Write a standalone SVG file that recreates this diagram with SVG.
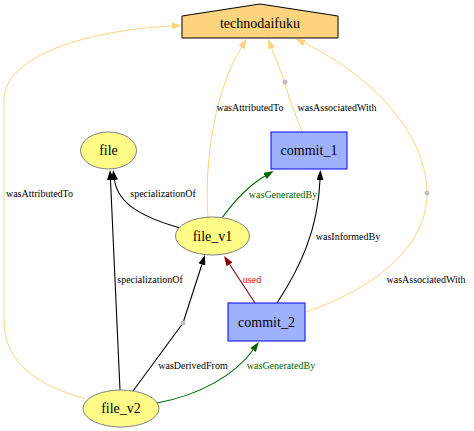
<svg xmlns="http://www.w3.org/2000/svg" width="474" height="431" viewBox="0 0 474 431" font-family="'Liberation Serif', 'DejaVu Serif', serif">
<style>
text{font-family:'Liberation Serif','DejaVu Serif',serif;text-anchor:middle}
.n{font-size:14px;fill:#000}
.l{font-size:10px;fill:#000}
.g{fill:#006400}
.r{fill:#ff0000}
.ent{fill:#fffc87;stroke:#808080;stroke-width:1}
.act{fill:#9fb1fc;stroke:#0000ff;stroke-width:1}
.agt{fill:#fed37f;stroke:#000;stroke-width:1}
.e{fill:none;stroke-width:1.1}
.k{stroke:#000}
.o{stroke:#fed37f;stroke-width:1}
.dg{stroke:#006400}
.dr{stroke:#8b0000}
.dot{fill:#c0c0c0}
</style>
<defs>
<marker id="ak" viewBox="0 0 10 7" refX="0" refY="3.5" markerWidth="10" markerHeight="7" markerUnits="userSpaceOnUse" orient="auto"><path d="M0,0L10,3.5L0,7z" fill="#000"/></marker>
<marker id="ao" viewBox="0 0 10 7" refX="0" refY="3.5" markerWidth="10" markerHeight="7" markerUnits="userSpaceOnUse" orient="auto"><path d="M0,0L10,3.5L0,7z" fill="#fed37f"/></marker>
<marker id="ag" viewBox="0 0 10 7" refX="0" refY="3.5" markerWidth="10" markerHeight="7" markerUnits="userSpaceOnUse" orient="auto"><path d="M0,0L10,3.5L0,7z" fill="#006400"/></marker>
<marker id="ar" viewBox="0 0 10 7" refX="0" refY="3.5" markerWidth="10" markerHeight="7" markerUnits="userSpaceOnUse" orient="auto"><path d="M0,0L10,3.5L0,7z" fill="#8b0000"/></marker>
</defs>
<g id="edges">
<path class="e o" d="M86,399 C40,386 4,365 4,320 L4,100 C4,55 90,30 172,26" marker-end="url(#ao)"/>
<text class="l" x="39.5" y="196.5" font-family="'Liberation Serif', serif">wasAttributedTo</text>
<path class="e o" d="M208,217 C204,160 215,90 241.5,47.3" marker-end="url(#ao)"/>
<text class="l" x="250" y="110.5" font-family="'Liberation Serif', serif">wasAttributedTo</text>
<path class="e o" d="M302,132 C296,115 287,95 285,82 L271.7,48.3" marker-end="url(#ao)"/>
<text class="l" x="337" y="110.5" font-family="'Liberation Serif', serif">wasAssociatedWith</text>
<path class="e o" d="M306,312 C370,290 427,250 427,193 C427,140 380,80 304.6,43.1" marker-end="url(#ao)"/>
<text class="l" x="426" y="282.5" font-family="'Liberation Serif', serif">wasAssociatedWith</text>
<path class="e k" d="M180,228 C145,218 118,205 114.5,180" marker-end="url(#ak)"/>
<text class="l" x="163" y="196.5" font-family="'Liberation Serif', serif">specializationOf</text>
<path class="e k" d="M120,390 L110.5,180" marker-end="url(#ak)"/>
<text class="l" x="150" y="282.5" font-family="'Liberation Serif', serif">specializationOf</text>
<path class="e dg" d="M222,218 C235,200 248,186 265,176" marker-end="url(#ag)"/>
<text class="l g" x="283" y="197.5" font-family="'Liberation Serif', serif">wasGeneratedBy</text>
<path class="e dr" d="M255,303 L229.5,264.3" marker-end="url(#ar)"/>
<text class="l r" x="252" y="282.5" font-family="'Liberation Serif', serif">used</text>
<path class="e k" d="M277,303 C300,268 318,230 320,180" marker-end="url(#ak)"/>
<text class="l" x="348" y="239.5" font-family="'Liberation Serif', serif">wasInformedBy</text>
<path class="e k" d="M133,391 L183,323 L201.9,264.5" marker-end="url(#ak)"/>
<text class="l" x="193" y="368.5" font-family="'Liberation Serif', serif">wasDerivedFrom</text>
<path class="e dg" d="M157,403 C200,395 235,375 253,350" marker-end="url(#ag)"/>
<text class="l g" x="281" y="368.5" font-family="'Liberation Serif', serif">wasGeneratedBy</text>
<circle class="dot" cx="285" cy="82" r="2.5"/>
<circle class="dot" cx="427" cy="193" r="2.5"/>
<circle class="dot" cx="183" cy="323" r="2.5"/>
</g>
<g id="technodaifuku">
<polygon class="agt" points="182,38 182,16 260,4 338,16 338,38"/>
<text class="n" x="260" y="27.5" font-family="'Liberation Serif', serif">technodaifuku</text>
</g>
<g id="file">
<ellipse class="ent" cx="108.5" cy="150.5" rx="28" ry="18.5"/>
<text class="n" x="108.5" y="155" font-family="'Liberation Serif', serif">file</text>
</g>
<g id="file_v1">
<ellipse class="ent" cx="212.5" cy="236" rx="37" ry="19"/>
<text class="n" x="212.5" y="240.5" font-family="'Liberation Serif', serif">file_v1</text>
</g>
<g id="file_v2">
<ellipse class="ent" cx="121" cy="408.5" rx="38" ry="18.5"/>
<text class="n" x="121" y="413" font-family="'Liberation Serif', serif">file_v2</text>
</g>
<g id="commit_1">
<rect class="act" x="271" y="132" width="76" height="37"/>
<text class="n" x="309" y="155" font-family="'Liberation Serif', serif">commit_1</text>
</g>
<g id="commit_2">
<rect class="act" x="228" y="303" width="77" height="38"/>
<text class="n" x="266.5" y="326.5" font-family="'Liberation Serif', serif">commit_2</text>
</g>
</svg>
